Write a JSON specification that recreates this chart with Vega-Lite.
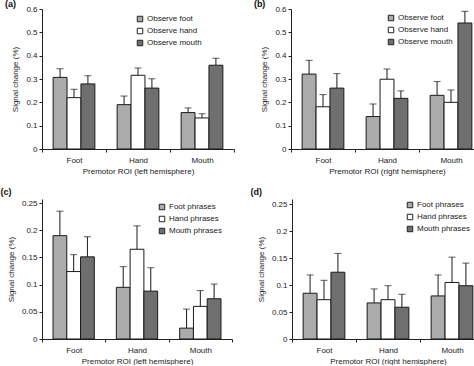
{
  "$schema": "https://vega.github.io/schema/vega-lite/v6.json",
  "padding": {"left": 0, "top": 0, "right": 0, "bottom": 0},
  "background": "white",
  "config": {
    "view": {"stroke": null},
    "font": "Liberation Sans",
    "axis": {"labelFont": "Liberation Sans", "titleFont": "Liberation Sans", "labelFontSize": 8, "titleFontSize": 8, "titleFontWeight": "normal", "labelColor": "#222", "titleColor": "#222", "domainColor": "#222", "tickColor": "#222", "tickSize": 3, "grid": false},
    "axisY": {"labelPadding": 2, "titlePadding": 6},
    "axisX": {"labelPadding": 4, "titlePadding": 3, "labelAngle": 0, "tickBand": "extent"},
    "legend": {"labelFont": "Liberation Sans", "labelFontSize": 8, "labelColor": "#222", "orient": "none", "title": null, "symbolType": "square", "symbolStrokeColor": "#222", "symbolStrokeWidth": 1, "symbolSize": 30, "rowPadding": 2, "labelOffset": 3},
    "title": {"font": "Liberation Sans", "fontSize": 9, "fontWeight": "bold", "anchor": "start", "frame": "bounds", "color": "#111", "dx": -7}
  },
  "data": {"values": [
    {"panel": "a", "roi": "Foot", "cond": "Observe foot", "value": 0.307, "upper": 0.344},
    {"panel": "a", "roi": "Foot", "cond": "Observe hand", "value": 0.220, "upper": 0.256},
    {"panel": "a", "roi": "Foot", "cond": "Observe mouth", "value": 0.279, "upper": 0.314},
    {"panel": "a", "roi": "Hand", "cond": "Observe foot", "value": 0.190, "upper": 0.227},
    {"panel": "a", "roi": "Hand", "cond": "Observe hand", "value": 0.316, "upper": 0.347},
    {"panel": "a", "roi": "Hand", "cond": "Observe mouth", "value": 0.261, "upper": 0.301},
    {"panel": "a", "roi": "Mouth", "cond": "Observe foot", "value": 0.156, "upper": 0.176},
    {"panel": "a", "roi": "Mouth", "cond": "Observe hand", "value": 0.133, "upper": 0.151},
    {"panel": "a", "roi": "Mouth", "cond": "Observe mouth", "value": 0.359, "upper": 0.389},
    {"panel": "b", "roi": "Foot", "cond": "Observe foot", "value": 0.321, "upper": 0.380},
    {"panel": "b", "roi": "Foot", "cond": "Observe hand", "value": 0.181, "upper": 0.233},
    {"panel": "b", "roi": "Foot", "cond": "Observe mouth", "value": 0.261, "upper": 0.323},
    {"panel": "b", "roi": "Hand", "cond": "Observe foot", "value": 0.139, "upper": 0.193},
    {"panel": "b", "roi": "Hand", "cond": "Observe hand", "value": 0.299, "upper": 0.343},
    {"panel": "b", "roi": "Hand", "cond": "Observe mouth", "value": 0.217, "upper": 0.249},
    {"panel": "b", "roi": "Mouth", "cond": "Observe foot", "value": 0.230, "upper": 0.289},
    {"panel": "b", "roi": "Mouth", "cond": "Observe hand", "value": 0.200, "upper": 0.253},
    {"panel": "b", "roi": "Mouth", "cond": "Observe mouth", "value": 0.540, "upper": 0.590},
    {"panel": "c", "roi": "Foot", "cond": "Foot phrases", "value": 0.190, "upper": 0.235},
    {"panel": "c", "roi": "Foot", "cond": "Hand phrases", "value": 0.124, "upper": 0.155},
    {"panel": "c", "roi": "Foot", "cond": "Mouth phrases", "value": 0.151, "upper": 0.188},
    {"panel": "c", "roi": "Hand", "cond": "Foot phrases", "value": 0.095, "upper": 0.133},
    {"panel": "c", "roi": "Hand", "cond": "Hand phrases", "value": 0.165, "upper": 0.208},
    {"panel": "c", "roi": "Hand", "cond": "Mouth phrases", "value": 0.088, "upper": 0.131},
    {"panel": "c", "roi": "Mouth", "cond": "Foot phrases", "value": 0.020, "upper": 0.055},
    {"panel": "c", "roi": "Mouth", "cond": "Hand phrases", "value": 0.060, "upper": 0.089},
    {"panel": "c", "roi": "Mouth", "cond": "Mouth phrases", "value": 0.074, "upper": 0.101},
    {"panel": "d", "roi": "Foot", "cond": "Foot phrases", "value": 0.085, "upper": 0.119},
    {"panel": "d", "roi": "Foot", "cond": "Hand phrases", "value": 0.073, "upper": 0.109},
    {"panel": "d", "roi": "Foot", "cond": "Mouth phrases", "value": 0.124, "upper": 0.159},
    {"panel": "d", "roi": "Hand", "cond": "Foot phrases", "value": 0.067, "upper": 0.093},
    {"panel": "d", "roi": "Hand", "cond": "Hand phrases", "value": 0.073, "upper": 0.099},
    {"panel": "d", "roi": "Hand", "cond": "Mouth phrases", "value": 0.059, "upper": 0.083},
    {"panel": "d", "roi": "Mouth", "cond": "Foot phrases", "value": 0.080, "upper": 0.119},
    {"panel": "d", "roi": "Mouth", "cond": "Hand phrases", "value": 0.105, "upper": 0.152},
    {"panel": "d", "roi": "Mouth", "cond": "Mouth phrases", "value": 0.099, "upper": 0.141}
  ]},
  "spacing": 13,
  "resolve": {"scale": {"x": "independent", "y": "independent", "color": "independent", "xOffset": "independent"}, "legend": {"color": "independent"}},
  "vconcat": [
    {
      "spacing": 18,
      "resolve": {"scale": {"x": "independent", "y": "independent", "color": "independent", "xOffset": "independent"}, "legend": {"color": "independent"}},
      "hconcat": [
        {
          "title": {"text": "(a)", "offset": -4},
          "width": 192, "height": 140,
          "transform": [{"filter": "datum.panel == 'a'"}],
          "encoding": {
            "x": {"field": "roi", "type": "nominal", "sort": ["Foot", "Hand", "Mouth"], "scale": {"paddingInner": 0, "paddingOuter": 0}, "axis": {"title": "Premotor ROI (left hemisphere)"}},
            "xOffset": {"field": "cond", "type": "nominal", "sort": ["Observe foot", "Observe hand", "Observe mouth"], "scale": {"paddingInner": 0, "paddingOuter": 0.8}}
          },
          "layer": [
            {"mark": {"type": "bar", "stroke": "#1a1a1a", "strokeWidth": 1},
             "encoding": {
               "y": {"field": "value", "type": "quantitative", "scale": {"domain": [0, 0.6]}, "axis": {"values": [0, 0.1, 0.2, 0.3, 0.4, 0.5, 0.6], "format": "~g", "title": "Signal change (%)"}},
               "color": {"field": "cond", "type": "nominal", "scale": {"domain": ["Observe foot", "Observe hand", "Observe mouth"], "range": ["#ababab", "#ffffff", "#6f6f6f"]}, "legend": {"legendX": 94, "legendY": 6}}
             }},
            {"mark": {"type": "rule", "color": "#1a1a1a"}, "encoding": {"y": {"field": "value", "type": "quantitative", "axis": {"values": [0, 0.1, 0.2, 0.3, 0.4, 0.5, 0.6], "format": "~g", "title": "Signal change (%)"}}, "y2": {"field": "upper"}}},
            {"mark": {"type": "tick", "color": "#1a1a1a", "size": 7, "thickness": 1}, "encoding": {"y": {"field": "upper", "type": "quantitative", "axis": {"values": [0, 0.1, 0.2, 0.3, 0.4, 0.5, 0.6], "format": "~g", "title": "Signal change (%)"}}}}
          ]
        },
        {
          "title": {"text": "(b)", "offset": -4},
          "width": 192, "height": 140,
          "transform": [{"filter": "datum.panel == 'b'"}],
          "encoding": {
            "x": {"field": "roi", "type": "nominal", "sort": ["Foot", "Hand", "Mouth"], "scale": {"paddingInner": 0, "paddingOuter": 0}, "axis": {"title": "Premotor ROI (right hemisphere)"}},
            "xOffset": {"field": "cond", "type": "nominal", "sort": ["Observe foot", "Observe hand", "Observe mouth"], "scale": {"paddingInner": 0, "paddingOuter": 0.8}}
          },
          "layer": [
            {"mark": {"type": "bar", "stroke": "#1a1a1a", "strokeWidth": 1},
             "encoding": {
               "y": {"field": "value", "type": "quantitative", "scale": {"domain": [0, 0.6]}, "axis": {"values": [0, 0.1, 0.2, 0.3, 0.4, 0.5, 0.6], "format": "~g", "title": "Signal change (%)"}},
               "color": {"field": "cond", "type": "nominal", "scale": {"domain": ["Observe foot", "Observe hand", "Observe mouth"], "range": ["#ababab", "#ffffff", "#6f6f6f"]}, "legend": {"legendX": 96, "legendY": 5}}
             }},
            {"mark": {"type": "rule", "color": "#1a1a1a"}, "encoding": {"y": {"field": "value", "type": "quantitative", "axis": {"values": [0, 0.1, 0.2, 0.3, 0.4, 0.5, 0.6], "format": "~g", "title": "Signal change (%)"}}, "y2": {"field": "upper"}}},
            {"mark": {"type": "tick", "color": "#1a1a1a", "size": 7, "thickness": 1}, "encoding": {"y": {"field": "upper", "type": "quantitative", "axis": {"values": [0, 0.1, 0.2, 0.3, 0.4, 0.5, 0.6], "format": "~g", "title": "Signal change (%)"}}}}
          ]
        }
      ]
    },
    {
      "spacing": 17,
      "resolve": {"scale": {"x": "independent", "y": "independent", "color": "independent", "xOffset": "independent"}, "legend": {"color": "independent"}},
      "hconcat": [
        {
          "title": {"text": "(c)", "offset": 2},
          "width": 190, "height": 140,
          "transform": [{"filter": "datum.panel == 'c'"}],
          "encoding": {
            "x": {"field": "roi", "type": "nominal", "sort": ["Foot", "Hand", "Mouth"], "scale": {"paddingInner": 0, "paddingOuter": 0}, "axis": {"title": "Premotor ROI (left hemisphere)"}},
            "xOffset": {"field": "cond", "type": "nominal", "sort": ["Foot phrases", "Hand phrases", "Mouth phrases"], "scale": {"paddingInner": 0, "paddingOuter": 0.8}}
          },
          "layer": [
            {"mark": {"type": "bar", "stroke": "#1a1a1a", "strokeWidth": 1},
             "encoding": {
               "y": {"field": "value", "type": "quantitative", "scale": {"domain": [0, 0.2574], "nice": false}, "axis": {"values": [0, 0.05, 0.1, 0.15, 0.2, 0.25], "format": "~g", "title": "Signal change (%)"}},
               "color": {"field": "cond", "type": "nominal", "scale": {"domain": ["Foot phrases", "Hand phrases", "Mouth phrases"], "range": ["#ababab", "#ffffff", "#6f6f6f"]}, "legend": {"legendX": 116, "legendY": 4}}
             }},
            {"mark": {"type": "rule", "color": "#1a1a1a"}, "encoding": {"y": {"field": "value", "type": "quantitative", "axis": {"values": [0, 0.05, 0.1, 0.15, 0.2, 0.25], "format": "~g", "title": "Signal change (%)"}}, "y2": {"field": "upper"}}},
            {"mark": {"type": "tick", "color": "#1a1a1a", "size": 7, "thickness": 1}, "encoding": {"y": {"field": "upper", "type": "quantitative", "axis": {"values": [0, 0.05, 0.1, 0.15, 0.2, 0.25], "format": "~g", "title": "Signal change (%)"}}}}
          ]
        },
        {
          "title": {"text": "(d)", "offset": 2},
          "width": 192, "height": 140,
          "transform": [{"filter": "datum.panel == 'd'"}],
          "encoding": {
            "x": {"field": "roi", "type": "nominal", "sort": ["Foot", "Hand", "Mouth"], "scale": {"paddingInner": 0, "paddingOuter": 0}, "axis": {"title": "Premotor ROI (right hemisphere)"}},
            "xOffset": {"field": "cond", "type": "nominal", "sort": ["Foot phrases", "Hand phrases", "Mouth phrases"], "scale": {"paddingInner": 0, "paddingOuter": 0.8}}
          },
          "layer": [
            {"mark": {"type": "bar", "stroke": "#1a1a1a", "strokeWidth": 1},
             "encoding": {
               "y": {"field": "value", "type": "quantitative", "scale": {"domain": [0, 0.25]}, "axis": {"values": [0, 0.05, 0.1, 0.15, 0.2, 0.25], "format": "~g", "title": "Signal change (%)"}},
               "color": {"field": "cond", "type": "nominal", "scale": {"domain": ["Foot phrases", "Hand phrases", "Mouth phrases"], "range": ["#ababab", "#ffffff", "#6f6f6f"]}, "legend": {"legendX": 114, "legendY": 2}}
             }},
            {"mark": {"type": "rule", "color": "#1a1a1a"}, "encoding": {"y": {"field": "value", "type": "quantitative", "axis": {"values": [0, 0.05, 0.1, 0.15, 0.2, 0.25], "format": "~g", "title": "Signal change (%)"}}, "y2": {"field": "upper"}}},
            {"mark": {"type": "tick", "color": "#1a1a1a", "size": 7, "thickness": 1}, "encoding": {"y": {"field": "upper", "type": "quantitative", "axis": {"values": [0, 0.05, 0.1, 0.15, 0.2, 0.25], "format": "~g", "title": "Signal change (%)"}}}}
          ]
        }
      ]
    }
  ]
}
